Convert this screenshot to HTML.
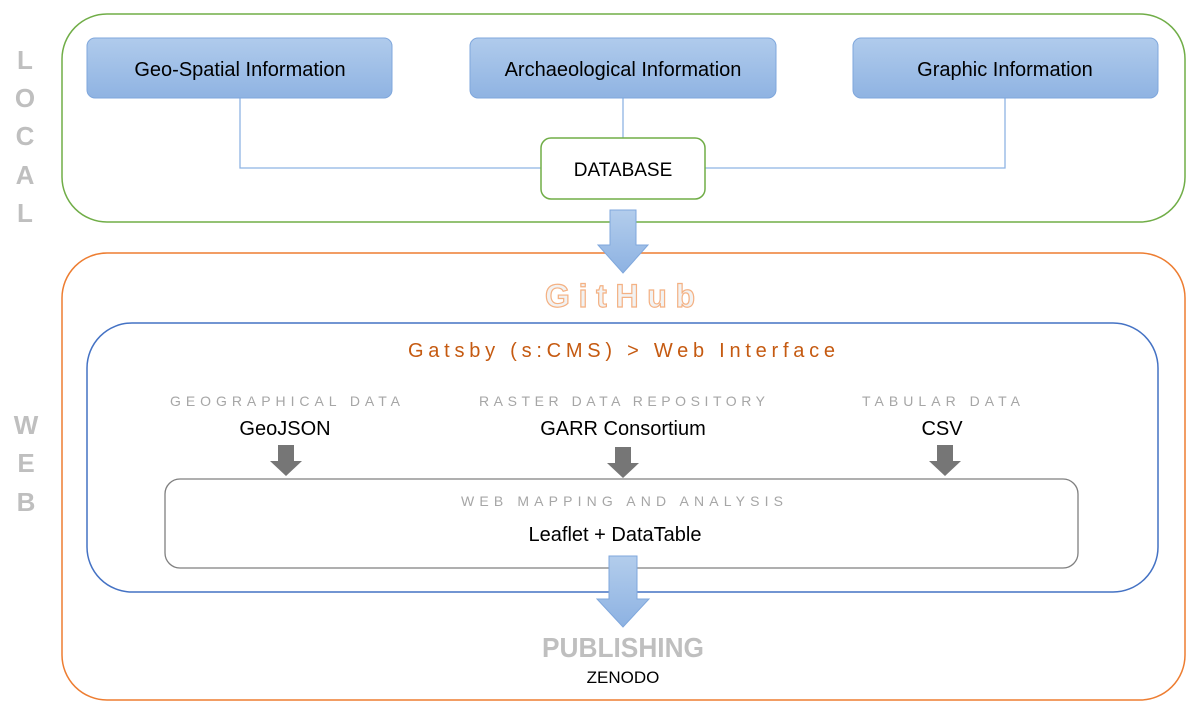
<!DOCTYPE html>
<html><head><meta charset="utf-8"><style>
html,body{margin:0;padding:0;background:#fff}
svg{display:block}
text{font-family:"Liberation Sans",sans-serif}
</style></head><body>
<svg width="1200" height="714" viewBox="0 0 1200 714" xmlns="http://www.w3.org/2000/svg">
<defs>
<linearGradient id="bg" x1="0" y1="0" x2="0" y2="1"><stop offset="0" stop-color="#b0cbec"/><stop offset="1" stop-color="#8fb3e2"/></linearGradient>
<linearGradient id="ag" x1="0" y1="0" x2="0" y2="1"><stop offset="0" stop-color="#b3cdec"/><stop offset="1" stop-color="#8db2e2"/></linearGradient>
</defs>
<!-- side labels -->
<g fill="#bfbfbf" font-weight="bold" font-size="26" text-anchor="middle">
<text x="25" y="69">L</text><text x="25" y="107">O</text><text x="25" y="145">C</text><text x="25" y="184">A</text><text x="25" y="222">L</text>
<text x="26" y="434">W</text><text x="26" y="472">E</text><text x="26" y="511">B</text>
</g>
<!-- LOCAL box -->
<rect x="62" y="14" width="1123" height="208" rx="45" fill="none" stroke="#70ad47" stroke-width="1.5"/>
<g stroke="#8eb4e3" stroke-width="1.3" fill="none">
<polyline points="240,98 240,168 541,168"/>
<line x1="623" y1="98" x2="623" y2="138"/>
<polyline points="1005,98 1005,168 705,168"/>
</g>
<g stroke="#7fa7dc" stroke-width="1">
<rect x="87" y="38" width="305" height="60" rx="8" fill="url(#bg)"/>
<rect x="470" y="38" width="306" height="60" rx="8" fill="url(#bg)"/>
<rect x="853" y="38" width="305" height="60" rx="8" fill="url(#bg)"/>
</g>
<g font-size="20" text-anchor="middle" fill="#000">
<text x="240" y="76">Geo-Spatial Information</text>
<text x="623" y="76">Archaeological Information</text>
<text x="1005" y="76">Graphic Information</text>
</g>
<rect x="541" y="138" width="164" height="61" rx="10" fill="#fff" stroke="#70ad47" stroke-width="1.5"/>
<text x="623" y="176" font-size="19" text-anchor="middle">DATABASE</text>
<!-- WEB box -->
<rect x="62" y="253" width="1123" height="447" rx="45" fill="none" stroke="#ed7d31" stroke-width="1.5"/>
<polygon points="610,210 636,210 636,245 648,245 623,273 598,245 610,245" fill="url(#ag)" stroke="#7fa7dc" stroke-width="1"/>
<text x="545" y="307" font-size="32" font-weight="bold" fill="#f2f2f2" stroke="#f4b183" stroke-width="1.2" textLength="150" lengthAdjust="spacing">GitHub</text>
<rect x="87" y="323" width="1071" height="269" rx="45" fill="none" stroke="#4472c4" stroke-width="1.5"/>
<text x="408" y="357" font-size="20" fill="#c55a11" textLength="427" lengthAdjust="spacing">Gatsby (s:CMS) &gt; Web Interface</text>
<g font-size="14" fill="#a6a6a6">
<text x="170" y="406" textLength="230" lengthAdjust="spacing">GEOGRAPHICAL DATA</text>
<text x="479" y="406" textLength="286" lengthAdjust="spacing">RASTER DATA REPOSITORY</text>
<text x="862" y="406" textLength="158" lengthAdjust="spacing">TABULAR DATA</text>
<text x="461" y="506" textLength="322" lengthAdjust="spacing">WEB MAPPING AND ANALYSIS</text>
</g>
<g font-size="20" text-anchor="middle">
<text x="285" y="435">GeoJSON</text>
<text x="623" y="435">GARR Consortium</text>
<text x="942" y="435">CSV</text>
<text x="615" y="541">Leaflet + DataTable</text>
</g>
<g fill="#767676">
<polygon points="278,445 294,445 294,461 302,461 286,476 270,461 278,461"/>
<polygon points="615,447 631,447 631,463 639,463 623,478 607,463 615,463"/>
<polygon points="937,445 953,445 953,461 961,461 945,476 929,461 937,461"/>
</g>
<rect x="165" y="479" width="913" height="89" rx="15" fill="none" stroke="#7f7f7f" stroke-width="1.3"/>
<polygon points="609,556 637,556 637,599 649,599 623,627 597,599 609,599" fill="url(#ag)" stroke="#7fa7dc" stroke-width="1"/>
<text x="623" y="657" font-size="28" font-weight="bold" fill="#bfbfbf" text-anchor="middle" textLength="162" lengthAdjust="spacingAndGlyphs">PUBLISHING</text>
<text x="623" y="683" font-size="17" text-anchor="middle">ZENODO</text>
</svg>
</body></html>
